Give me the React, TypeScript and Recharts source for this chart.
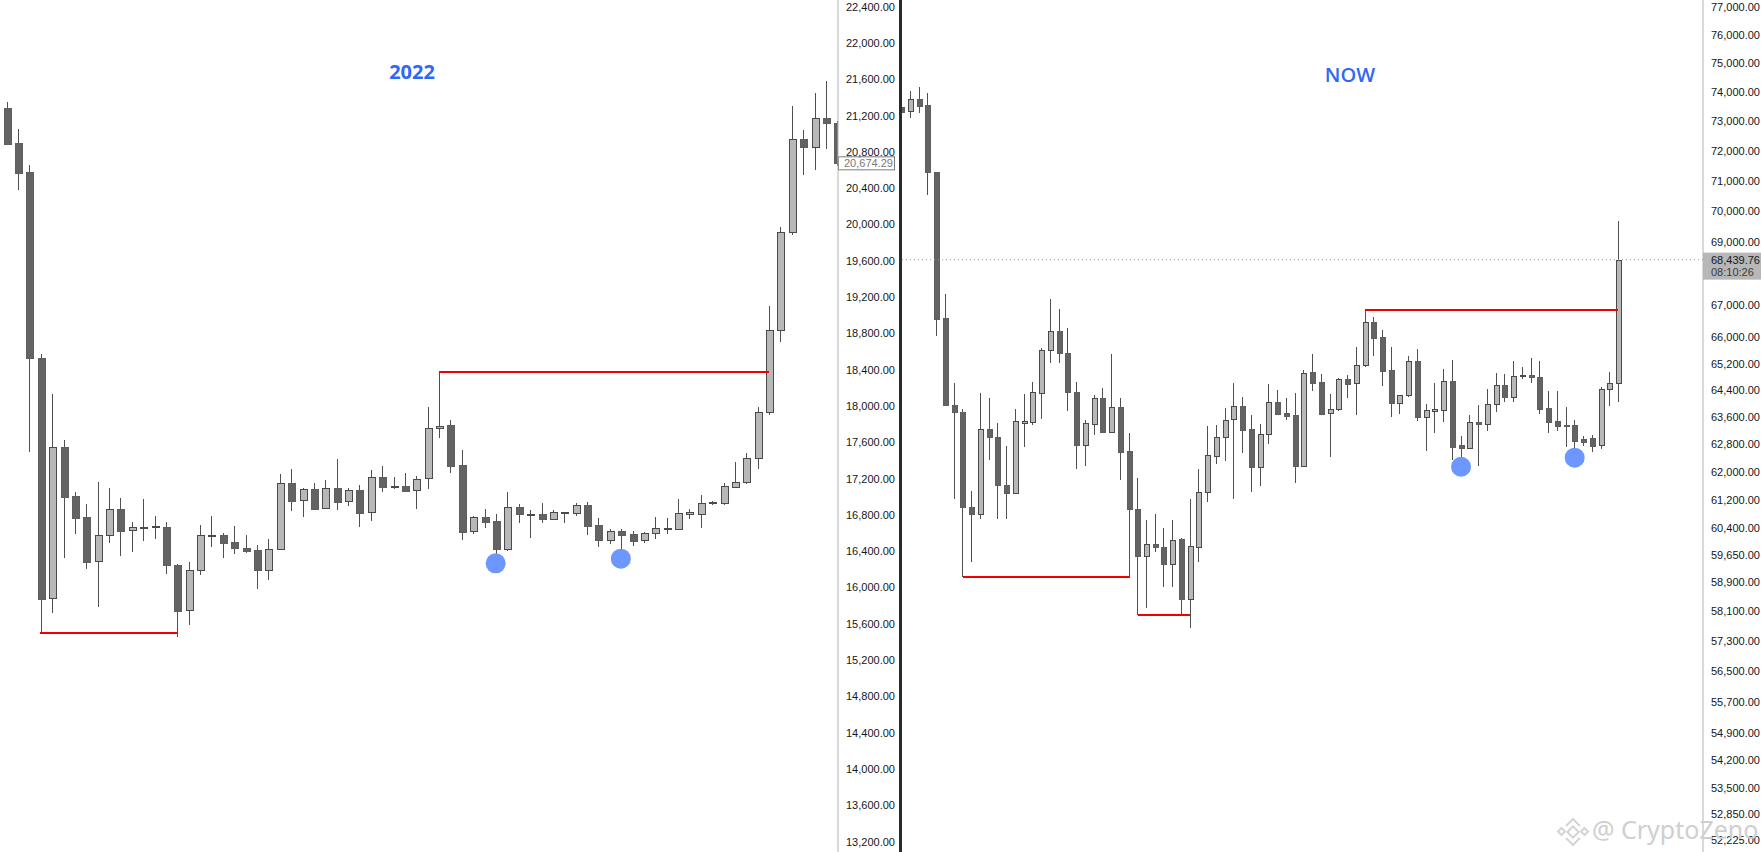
import React from 'react';
import { ComposedChart, Bar, XAxis, YAxis, ReferenceLine, ReferenceDot } from 'recharts';

// 2022 panel (daily candles, linear price scale)
const leftOpen = [21286, 20898, 20577, 18528, 15880, 17550, 17014, 16778, 16289, 16576, 16867, 16631, 16668, 16677, 16668, 16247, 15749, 16192, 16576, 16580, 16500, 16437, 16411, 16188, 16420, 17149, 16961, 17082, 16873, 17093, 16950, 17071, 16829, 17218, 17116, 17119, 17071, 17204, 17755, 17788, 17347, 16620, 16774, 16730, 16429, 16884, 16807, 16807, 16759, 16829, 16818, 16906, 16686, 16528, 16620, 16587, 16521, 16598, 16653, 16649, 16807, 16807, 16935, 16928, 17112, 17160, 17424, 17931, 18834, 19914, 20939, 20858, 21174, 21115];
const leftHigh = [21349, 21054, 20657, 18574, 18132, 17626, 17056, 16921, 17162, 17098, 16985, 16723, 16976, 16787, 16723, 16264, 16281, 16690, 16787, 16597, 16677, 16576, 16466, 16534, 17250, 17305, 17097, 17149, 17185, 17417, 17093, 17130, 17295, 17340, 17218, 17259, 17229, 17986, 18379, 17846, 17516, 16789, 16866, 16811, 17049, 16921, 16851, 16932, 16855, 16836, 16928, 16947, 16763, 16642, 16642, 16620, 16609, 16774, 16770, 16976, 16866, 17020, 16958, 17149, 17384, 17486, 17986, 19106, 19977, 21306, 21042, 21449, 21582, 21140];
const leftLow = [20877, 20379, 17499, 15500, 15716, 16331, 16593, 16205, 15791, 16496, 16352, 16394, 16517, 16534, 16154, 15458, 15589, 16141, 16449, 16331, 16373, 16386, 15989, 16087, 16416, 16845, 16781, 16855, 16869, 16858, 16903, 16671, 16737, 17057, 17090, 17064, 16869, 17082, 17652, 17266, 16528, 16587, 16660, 16267, 16399, 16715, 16550, 16715, 16755, 16715, 16785, 16583, 16451, 16476, 16318, 16462, 16488, 16539, 16594, 16638, 16752, 16660, 16906, 16910, 17101, 17138, 17310, 17901, 18710, 19885, 20550, 20601, 20836, 20650];
const leftClose = [20889, 20573, 18532, 15876, 17546, 17002, 16770, 16285, 16580, 16867, 16626, 16668, 16672, 16680, 16243, 15741, 16192, 16580, 16579, 16496, 16441, 16407, 16188, 16424, 17149, 16959, 17082, 16869, 17093, 16947, 17071, 16825, 17215, 17112, 17119, 17068, 17193, 17755, 17784, 17343, 16616, 16774, 16726, 16429, 16884, 16814, 16810, 16759, 16829, 16832, 16906, 16682, 16528, 16620, 16583, 16517, 16598, 16653, 16656, 16825, 16829, 16935, 16938, 17115, 17160, 17424, 17931, 18834, 19914, 20939, 20858, 21174, 21115, 20674.29];
const leftTicks = [13200, 13600, 14000, 14400, 14800, 15200, 15600, 16000, 16400, 16800, 17200, 17600, 18000, 18400, 18800, 19200, 19600, 20000, 20400, 20800, 21200, 21600, 22000, 22400];
const leftLast = 20674.29;

// NOW panel (daily candles, log price scale)
const rightOpen = [73470, 73333, 73751, 73548, 71289, 66607, 63959, 63750, 61000, 60788, 63246, 63018, 61611, 61377, 63410, 63443, 64313, 65604, 66195, 65525, 64357, 62790, 63388, 64158, 63170, 63904, 62606, 60925, 59626, 59957, 59854, 59400, 60082, 58437, 59873, 61411, 62465, 63021, 63533, 63928, 63246, 62145, 63092, 64048, 63720, 63660, 62174, 64949, 64647, 63711, 63830, 64728, 64608, 65152, 66480, 66016, 65009, 64027, 64248, 65282, 63610, 63771, 63818, 64668, 62769, 62681, 63444, 63386, 63979, 64547, 64187, 64849, 64849, 64788, 63869, 63474, 63365, 63365, 62953, 62982, 62777, 64427, 64608];
const rightHigh = [73500, 74018, 74172, 73955, 71300, 67346, 64624, 63827, 61452, 64324, 64158, 63421, 62736, 63827, 64291, 64658, 65683, 67207, 66895, 66286, 64658, 63520, 64269, 64457, 65492, 64158, 63115, 61824, 60611, 60799, 60402, 60611, 60123, 61208, 62072, 63344, 63365, 63860, 64608, 64205, 63660, 63394, 64587, 64406, 64167, 64307, 65009, 65495, 64879, 64287, 64759, 64858, 65700, 66875, 66625, 66232, 65700, 64270, 65444, 65639, 63988, 64608, 65040, 65312, 63041, 63660, 63958, 64427, 64909, 64889, 65282, 65091, 65364, 65282, 64376, 64376, 63898, 63513, 63041, 63070, 64497, 64949, 69683];
const rightLow = [73250, 73119, 73295, 70531, 66058, 63937, 61219, 59033, 59441, 60663, 62326, 60663, 60663, 61370, 62704, 63356, 63553, 65232, 65232, 63772, 62090, 62176, 63083, 63160, 63160, 61749, 59013, 57994, 58195, 59730, 58759, 58759, 57994, 57646, 59456, 61133, 62224, 62319, 61210, 62552, 61411, 61600, 62816, 63690, 63513, 61686, 62145, 64385, 63680, 62419, 63788, 64167, 63660, 65091, 65435, 64535, 63610, 63699, 64205, 63492, 62611, 63138, 63463, 62340, 62145, 62670, 62174, 63197, 63758, 64056, 64056, 64746, 64626, 63690, 63138, 63197, 62728, 62407, 62748, 62582, 62651, 63928, 64056];
const rightClose = [73320, 73751, 73535, 71289, 66584, 63970, 63739, 60977, 60788, 63246, 63007, 61611, 61377, 63476, 63487, 64346, 65615, 66195, 65514, 64357, 62790, 63421, 64158, 63170, 63904, 62574, 60925, 59626, 59957, 59854, 59400, 60071, 58437, 59885, 61411, 62485, 63003, 63504, 63928, 63226, 62145, 63100, 64039, 63699, 63640, 62174, 64909, 64626, 63690, 63830, 64728, 64596, 65152, 66480, 65994, 64988, 64027, 64257, 65273, 63610, 63801, 63839, 64668, 62728, 62681, 63444, 63386, 63979, 64547, 64187, 64819, 64852, 64788, 63848, 63463, 63344, 63362, 62903, 62866, 62757, 64427, 64608, 68439.76];
const rightTicks = [52225, 52850, 53500, 54200, 54900, 55700, 56500, 57300, 58100, 58900, 59650, 60400, 61200, 62000, 62800, 63600, 64400, 65200, 66000, 67000, 69000, 70000, 71000, 72000, 73000, 74000, 75000, 76000, 77000];
const rightLast = 68439.76;
const rightTimer = '08:10:26';

// annotations: red levels [fromIndex, toIndex, price], blue markers [index, price]
const leftLevels = [[3, 15, 15500], [38, 67, 18379]];
const leftMarks = [[43, 16267], [54, 16318]];
const rightLevels = [[7, 26, 59040], [27, 33, 57990], [53, 82, 66860]];
const rightMarks = [[64, 62145], [77, 62407]];

const buildRows = (o: number[], h: number[], l: number[], c: number[]) =>
    o.map((open, i) => ({ i, open, high: h[i], low: l[i], close: c[i], range: [l[i], h[i]] }));

const leftRows = buildRows(leftOpen, leftHigh, leftLow, leftClose);
const rightRows = buildRows(rightOpen, rightHigh, rightLow, rightClose);

const fmt = (v: number) => v.toLocaleString('en-US', { minimumFractionDigits: 2, maximumFractionDigits: 2 });

const tickStyle = { fill: '#131722', fontSize: 11, fontFamily: 'Liberation Sans, Arial, sans-serif' };
const RED = '#f20000';
const BLUE = '#6b97ff';

// one candle: wick from the bar range, body placed inside it
const Candle = (props: any) => {
    const { x, y, width, height, payload, log, bodyW } = props;
    if (x == null || !payload || !isFinite(y) || !isFinite(height)) return null;
    const f = log ? Math.log : (v: number) => v;
    const top = Math.min(y, y + height);
    const bottom = Math.max(y, y + height);
    const span = f(payload.high) - f(payload.low) || 1;
    const py = (v: number) => top + ((bottom - top) * (f(payload.high) - f(v))) / span;
    const cx = Math.round(x + width / 2) + 0.5;
    const up = payload.close >= payload.open;
    const yo = py(payload.open);
    const yc = py(payload.close);
    const bt = Math.round(Math.min(yo, yc)) + 0.5;
    const bb = Math.max(Math.round(Math.max(yo, yc)) + 0.5, bt + 1);
    return (
        <g shapeRendering="crispEdges">
            <line x1={cx} x2={cx} y1={top} y2={bottom} stroke="#505050" strokeWidth={1} />
            <rect
                x={cx - bodyW / 2}
                y={bt}
                width={bodyW}
                height={bb - bt}
                fill={up ? '#b8b8b8' : '#636363'}
                stroke={up ? '#4a4a4a' : '#5f5f5f'}
                strokeWidth={1}
            />
        </g>
    );
};

const LeftTag = (props: any) => {
    const vb = props.viewBox;
    if (!vb) return null;
    const x = vb.x + vb.width;
    return (
        <g>
            <rect x={x + 0.5} y={vb.y - 6.5} width={56} height={13} fill="#ffffff" stroke="#7a7a7a" strokeWidth={1} />
            <text x={x + 6} y={vb.y + 4} fontSize={11} fontFamily="Liberation Sans, Arial, sans-serif" fill="#7a7a7a">
                {fmt(leftLast)}
            </text>
        </g>
    );
};

const RightTag = (props: any) => {
    const vb = props.viewBox;
    if (!vb) return null;
    const x = vb.x + vb.width;
    return (
        <g>
            <rect x={x} y={vb.y - 7} width={60} height={27} fill="#b7b7b7" />
            <text x={x + 8} y={vb.y + 4} fontSize={11} fontFamily="Liberation Sans, Arial, sans-serif" fill="#131722">
                {fmt(rightLast)}
            </text>
            <text x={x + 8} y={vb.y + 16} fontSize={11} fontFamily="Liberation Sans, Arial, sans-serif" fill="#3a3a3a">
                {rightTimer}
            </text>
        </g>
    );
};

const BinanceMark = () => (
    <svg width={34} height={34} viewBox="0 0 34 34" style={{ position: 'absolute', left: 1556, top: 815 }}>
        <g fill="none" stroke="#d4d4d4" strokeWidth={2}>
            <rect x={13} y={13} width={8} height={8} transform="rotate(45 17 17)" />
            <path d="M10 11 L17 4 L24 11" />
            <path d="M10 23 L17 30 L24 23" />
            <rect x={3} y={14} width={5} height={5} transform="rotate(45 5.5 16.5)" />
            <rect x={26} y={14} width={5} height={5} transform="rotate(45 28.5 16.5)" />
        </g>
    </svg>
);

const titleStyle: React.CSSProperties = {
    position: 'absolute',
    width: 120,
    textAlign: 'center',
    color: '#2f68f2',
    fontFamily: 'Open Sans, sans-serif',
    fontWeight: 700,
    fontSize: 20,
    lineHeight: '28px',
};

const App: React.FC = () => {
    return (
        <div style={{ position: 'absolute', left: 0, top: 0, width: 1761, height: 852, background: '#ffffff', overflow: 'hidden' }}>
            {/* 2022 panel */}
            <div style={{ position: 'absolute', left: 0, top: 0 }}>
                <ComposedChart width={899} height={852} data={leftRows} margin={{ top: 0, right: 0, bottom: 0, left: 0 }}>
                    <XAxis dataKey="i" type="number" domain={[-0.554, 73.08]} hide allowDataOverflow />
                    <YAxis
                        orientation="right"
                        width={61}
                        domain={[13086, 22474]}
                        ticks={leftTicks}
                        interval={0}
                        allowDataOverflow
                        tickFormatter={fmt}
                        tick={tickStyle}
                        tickLine={false}
                        axisLine={{ stroke: '#b2b2b2' }}
                    />
                    {leftMarks.map(([i, p]) => (
                        <ReferenceDot key={`ld${i}`} x={i} y={p} r={10} fill={BLUE} stroke="none" />
                    ))}
                    {leftLevels.map(([a, b, p]) => (
                        <ReferenceLine
                            key={`ll${a}`}
                            segment={[{ x: a, y: p }, { x: b, y: p }]}
                            stroke={RED}
                            strokeWidth={2}
                            shapeRendering="crispEdges"
                        />
                    ))}
                    <Bar
                        dataKey="range"
                        barSize={8}
                        isAnimationActive={false}
                        shape={(p: any) => <Candle {...p} bodyW={7} log={false} />}
                    />
                    <ReferenceLine y={leftLast} stroke="none" label={(p: any) => <LeftTag {...p} />} />
                </ComposedChart>
            </div>

            {/* NOW panel */}
            <div style={{ position: 'absolute', left: 902, top: 0 }}>
                <ComposedChart width={859} height={852} data={rightRows} margin={{ top: 0, right: 0, bottom: 0, left: 0 }}>
                    <XAxis dataKey="i" type="number" domain={[0.046, 91.68]} hide allowDataOverflow />
                    <YAxis
                        orientation="right"
                        width={58}
                        scale="log"
                        domain={[51933, 77241]}
                        ticks={rightTicks}
                        interval={0}
                        allowDataOverflow
                        tickFormatter={fmt}
                        tick={tickStyle}
                        tickLine={false}
                        axisLine={{ stroke: '#b2b2b2' }}
                    />
                    <ReferenceLine y={rightLast} stroke="#9a9a9a" strokeDasharray="1 3" label={(p: any) => <RightTag {...p} />} />
                    {rightMarks.map(([i, p]) => (
                        <ReferenceDot key={`rd${i}`} x={i} y={p} r={10} fill={BLUE} stroke="none" />
                    ))}
                    {rightLevels.map(([a, b, p]) => (
                        <ReferenceLine
                            key={`rl${a}`}
                            segment={[{ x: a, y: p }, { x: b, y: p }]}
                            stroke={RED}
                            strokeWidth={2}
                            shapeRendering="crispEdges"
                        />
                    ))}
                    <Bar
                        dataKey="range"
                        barSize={6}
                        isAnimationActive={false}
                        shape={(p: any) => <Candle {...p} bodyW={5} log />}
                    />
                </ComposedChart>
            </div>

            {/* panel divider */}
            <div style={{ position: 'absolute', left: 899, top: 0, width: 3, height: 852, background: '#2b2b2b' }} />

            <div style={{ ...titleStyle, left: 352, top: 58 }}>2022</div>
            <div style={{ ...titleStyle, left: 1290, top: 61, fontWeight: 600 }}>NOW</div>

            <BinanceMark />
            <div
                style={{
                    position: 'absolute',
                    left: 1592,
                    top: 814,
                    fontFamily: 'Noto Sans, sans-serif',
                    fontSize: 25,
                    lineHeight: '30px',
                    color: '#cfcfcf',
                    whiteSpace: 'nowrap',
                }}
            >
                @ CryptoZeno
            </div>
        </div>
    );
};

export default App;
